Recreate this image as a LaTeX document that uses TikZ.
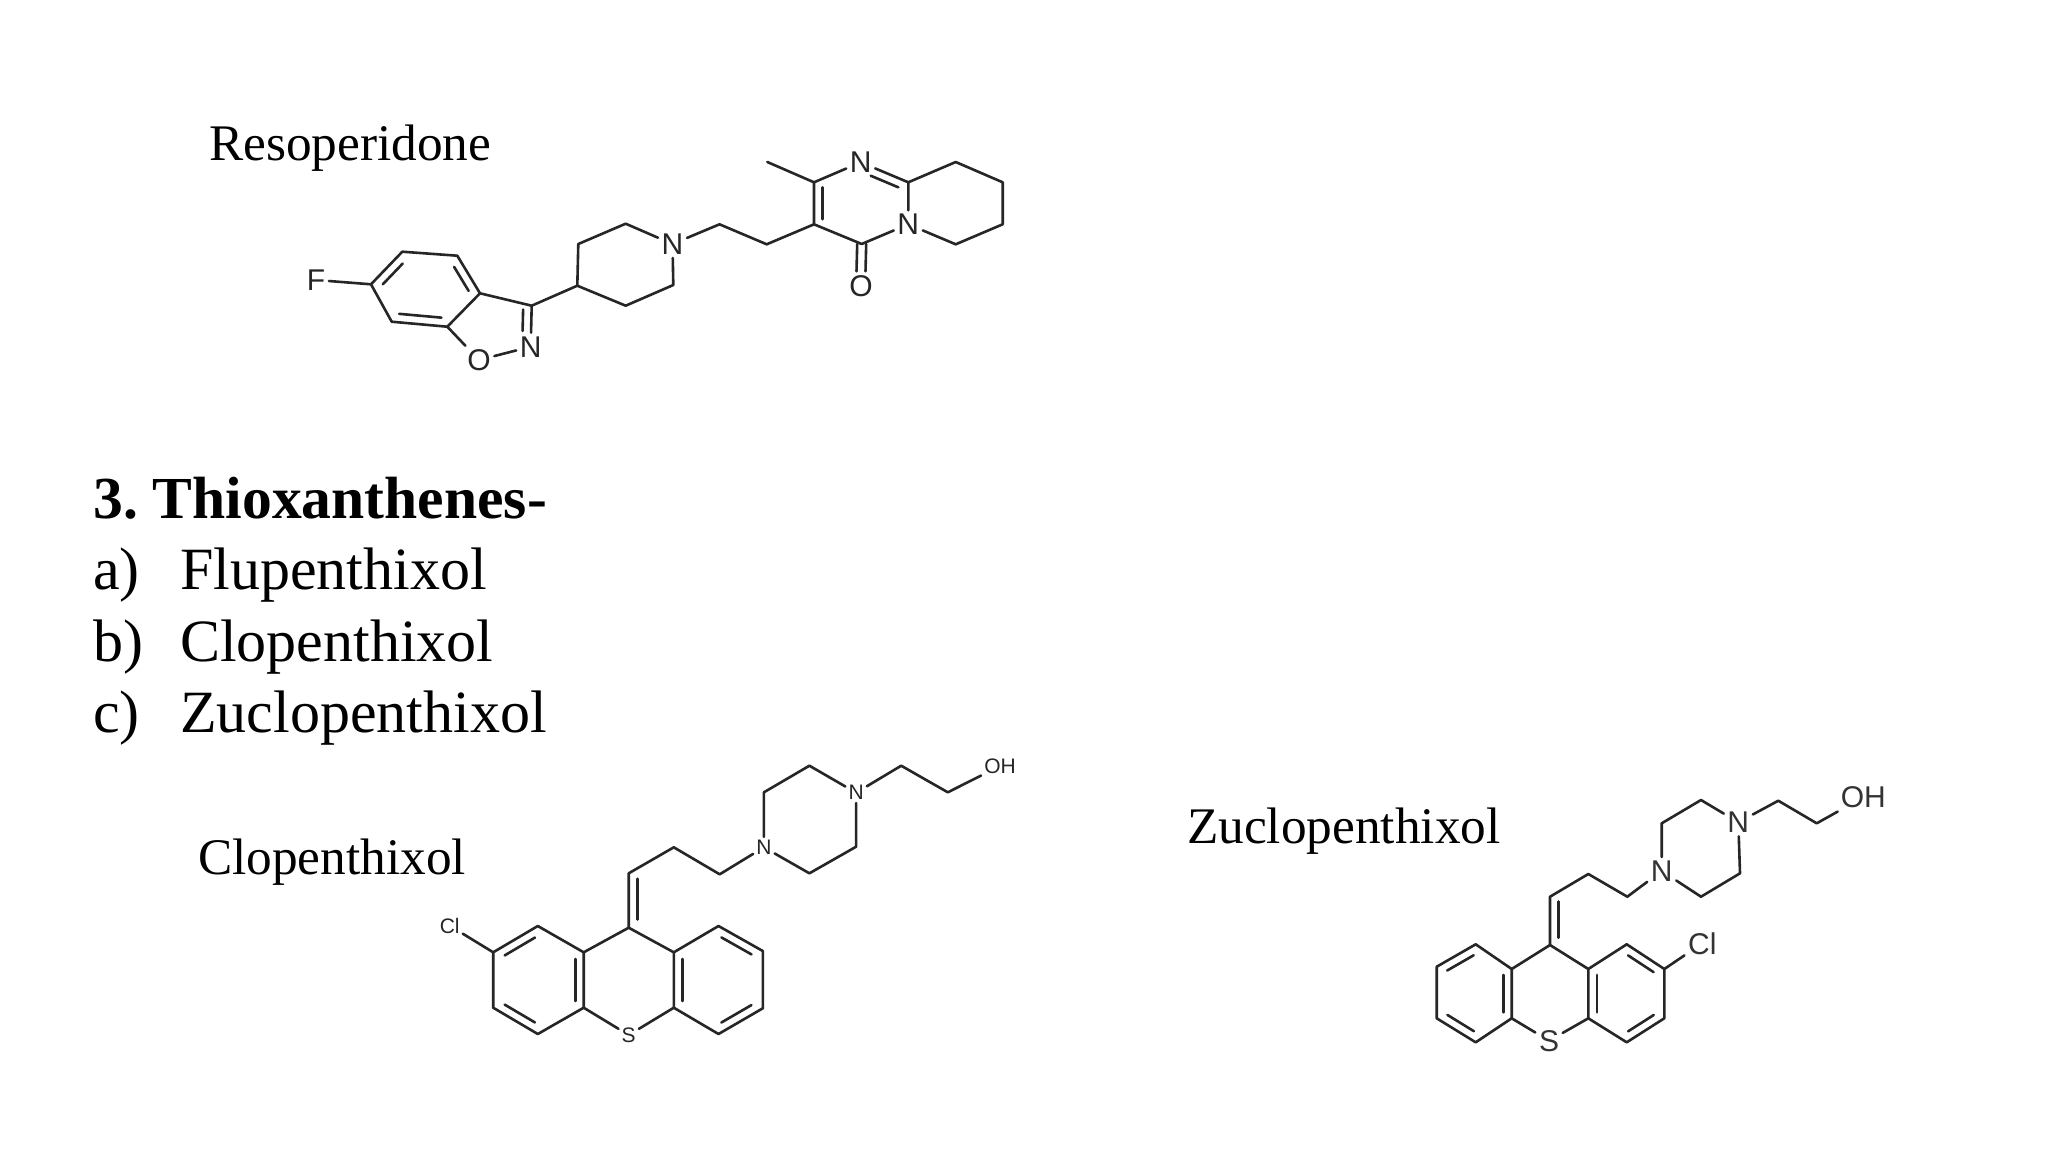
\documentclass[tikz,border=0pt]{standalone}
\usepackage{fontspec}
\setmainfont{Liberation Serif}
\newfontfamily\atomfont{Liberation Sans}
\usetikzlibrary{calc}
\tikzset{
  bond/.style={draw=black!85,line width=2.6pt,line cap=round,line join=round},
  title/.style={anchor=base west,inner sep=0pt,text=black,font=\fontsize{51.3}{60}\selectfont},
  listtext/.style={anchor=base west,inner sep=0pt,text=black,font=\fontsize{60}{72}\selectfont},
  heading/.style={anchor=base west,inner sep=0pt,text=black,font=\fontsize{59.6}{72}\selectfont\bfseries},
  atomA/.style={inner sep=3.5pt,text=black!85,font=\atomfont\fontsize{30}{30}\selectfont},
  atomB/.style={inner sep=3pt,text=black!85,font=\atomfont\fontsize{21}{21}\selectfont},
  atomC/.style={inner sep=3.5pt,text=black!80,font=\atomfont\fontsize{30}{30}\selectfont},
}
\newcommand{\dblR}[4]{\draw[bond] ($(#1)!#3!(#2)!8.5pt!-90:(#2)$) -- ($(#1)!#4!(#2)!8.5pt!90:(#1)$);}
\begin{document}
\begin{tikzpicture}[x=1pt,y=-1pt]
\fill[white] (0,0) rectangle (2048,1152);
\useasboundingbox (0,0) rectangle (2048,1152);

% ---------- texts
\node[title] (tRes) at (209,160) {Resoperidone};
\node[heading] (tHead) at (93,518) {\frenchspacing 3. Thioxanthenes-};
\node[listtext] (la) at (93,589) {a)};
\node[listtext] (lat) at (180,589) {Flupenthixol};
\node[listtext] (lb) at (93,661) {b)};
\node[listtext] (lbt) at (180,661) {Clopenthixol};
\node[listtext] (lc) at (93,732.5) {c)};
\node[listtext] (lct) at (180,732.5) {Zuclopenthixol};
\node[title] (tClo) at (198,874) {Clopenthixol};
\node[title] (tZuc) at (1187,843) {Zuclopenthixol};

% ---------- Resoperidone
\node[atomA] (rF) at (316,280) {F};
\coordinate (r1) at (371,284.3);
\coordinate (r2) at (402.3,251.7);
\coordinate (r3) at (457.3,255.7);
\coordinate (r4) at (480,293.3);
\coordinate (r5) at (447.3,326.7);
\coordinate (r6) at (391.7,321.7);
\coordinate (r7) at (531.7,305.7);
\node[atomA] (rN1) at (530.7,346.7) {N};
\node[atomA] (rO1) at (479,360) {O};
\coordinate (p1) at (577.3,285.7);
\coordinate (p2) at (578.3,244);
\coordinate (p3) at (625.7,223.7);
\node[atomA] (rN2) at (672.5,244) {N};
\coordinate (p5) at (673.3,285);
\coordinate (p6) at (625.7,305.7);
\coordinate (c1) at (719.5,224.3);
\coordinate (c2) at (766.7,244.3);
\coordinate (q1) at (814,224.3);
\coordinate (q2) at (814,182.3);
\coordinate (me) at (767.3,162);
\node[atomA] (rN3) at (860.7,162.3) {N};
\coordinate (q4) at (908.3,182.3);
\node[atomA] (rN4) at (908.3,224.3) {N};
\coordinate (q6) at (861.7,244);
\node[atomA] (rO2) at (861,285.7) {O};
\coordinate (s1) at (955.7,162);
\coordinate (s2) at (1002.7,182.3);
\coordinate (s3) at (1002.7,224.3);
\coordinate (s4) at (955.7,244.3);

\draw[bond] (rF) -- (r1) -- (r2) -- (r3) -- (r4) -- (r5) -- (r6) -- (r1);
\draw[bond] (r4) -- (r7) -- (rN1);
\draw[bond] (r5) -- (rO1) -- (rN1);
\draw[bond] (r7) -- (p1) -- (p2) -- (p3) -- (rN2) -- (p5) -- (p6) -- (p1);
\draw[bond] (rN2) -- (c1) -- (c2) -- (q1) -- (q2) -- (rN3) -- (q4) -- (rN4) -- (q6) -- (q1);
\draw[bond] (q2) -- (me);
\draw[bond] (q4) -- (s1) -- (s2) -- (s3) -- (s4) -- (rN4);
\dblR{r1}{r2}{.18}{.82}
\dblR{r3}{r4}{.18}{.82}
\dblR{r5}{r6}{.12}{.88}
\dblR{r7}{rN1}{.1}{.62}
\dblR{q1}{q2}{.12}{.88}
\dblR{rN3}{q4}{.28}{.86}
\draw[bond] ([xshift=-4.5pt]q6) -- ([xshift=-4.5pt]rO2.north);
\draw[bond] ([xshift=4.5pt]q6) -- ([xshift=4.5pt]rO2.north);

% ---------- Clopenthixol
\node[atomB] (kCl) at (449.7,925.7) {Cl};
\coordinate (ka) at (493.2,952.3);
\coordinate (kb) at (537.8,926);
\coordinate (kc) at (583.7,952.3);
\coordinate (kd) at (583.7,1007.7);
\coordinate (ke) at (537.8,1034);
\coordinate (kf) at (493.2,1007.7);
\coordinate (kg) at (628.7,927.7);
\coordinate (kh) at (673.8,952.3);
\coordinate (ki) at (718.5,926);
\coordinate (kj) at (762.8,951);
\coordinate (kk) at (762.8,1008.3);
\coordinate (kl) at (718.5,1034);
\coordinate (km) at (673.8,1007.7);
\node[atomB] (kS) at (628.7,1035) {S};
\coordinate (kt) at (628.7,873.3);
\coordinate (ku) at (673.8,847.3);
\coordinate (kv) at (719.7,874.3);
\node[atomB] (kN1) at (763.9,847.3) {N};
\coordinate (kw) at (763.9,792.3);
\coordinate (kx) at (809.4,765.7);
\node[atomB] (kN2) at (856.1,792.7) {N};
\coordinate (ky) at (856.1,846.7);
\coordinate (kz) at (809.4,873.3);
\coordinate (kp) at (901.2,765.7);
\coordinate (kq) at (947.8,792.3);
\node[atomB] (kOH) at (1000,766) {OH};

\draw[bond] (kCl) -- (ka) -- (kb) -- (kc) -- (kd) -- (ke) -- (kf) -- (ka);
\draw[bond] (kc) -- (kg) -- (kh) -- (ki) -- (kj) -- (kk) -- (kl) -- (km) -- (kh);
\draw[bond] (kd) -- (kS) -- (km);
\draw[bond] (kg) -- (kt) -- (ku) -- (kv) -- (kN1) -- (kw) -- (kx) -- (kN2) -- (ky) -- (kz) -- (kN1);
\draw[bond] (kN2) -- (kp) -- (kq) -- (kOH);
\dblR{ka}{kb}{.16}{.84}
\dblR{kc}{kd}{.12}{.88}
\dblR{ke}{kf}{.16}{.84}
\dblR{ki}{kj}{.16}{.84}
\dblR{kk}{kl}{.16}{.84}
\dblR{km}{kh}{.12}{.88}
\dblR{kg}{kt}{.15}{.9}

% ---------- Zuclopenthixol
\coordinate (za) at (1436.7,966.7);
\coordinate (zb) at (1475.7,944.3);
\coordinate (zc) at (1511.7,969);
\coordinate (zd) at (1511.7,1018.3);
\coordinate (ze) at (1475.7,1042.3);
\coordinate (zf) at (1436.7,1018.3);
\coordinate (zg) at (1550,945);
\coordinate (zh) at (1588.3,969);
\coordinate (zi) at (1626.7,944.3);
\coordinate (zj) at (1664.3,969);
\coordinate (zk) at (1664.3,1018.3);
\coordinate (zl) at (1626.7,1042.3);
\coordinate (zm) at (1588.3,1018.3);
\node[atomC] (zS) at (1549,1040.7) {S};
\node[atomC] (zCl) at (1702.3,943.3) {Cl};
\coordinate (zt) at (1550,896.7);
\coordinate (zu) at (1588.3,874);
\coordinate (zv) at (1627.3,896.7);
\node[atomC] (zN1) at (1661.7,871) {N};
\coordinate (zw) at (1661.7,823.3);
\coordinate (zx) at (1701,800);
\node[atomC] (zN2) at (1738.3,822.3) {N};
\coordinate (zy) at (1740,873.3);
\coordinate (zz) at (1701,896.7);
\coordinate (zp) at (1778.3,800.7);
\coordinate (zq) at (1816.7,823.3);
\node[atomC] (zOH) at (1863.3,797.3) {OH};

\draw[bond] (za) -- (zb) -- (zc) -- (zd) -- (ze) -- (zf) -- (za);
\draw[bond] (zc) -- (zg) -- (zh) -- (zi) -- (zj) -- (zk) -- (zl) -- (zm) -- (zh);
\draw[bond] (zj) -- (zCl);
\draw[bond] (zd) -- (zS) -- (zm);
\draw[bond] (zg) -- (zt) -- (zu) -- (zv) -- (zN1) -- (zw) -- (zx) -- (zN2) -- (zy) -- (zz) -- (zN1);
\draw[bond] (zN2) -- (zp) -- (zq) -- (zOH);
\dblR{za}{zb}{.16}{.84}
\dblR{zc}{zd}{.12}{.88}
\dblR{ze}{zf}{.16}{.84}
\dblR{zi}{zj}{.16}{.84}
\dblR{zk}{zl}{.16}{.84}
\dblR{zm}{zh}{.12}{.88}
\dblR{zg}{zt}{.15}{.9}
\end{tikzpicture}
\end{document}
